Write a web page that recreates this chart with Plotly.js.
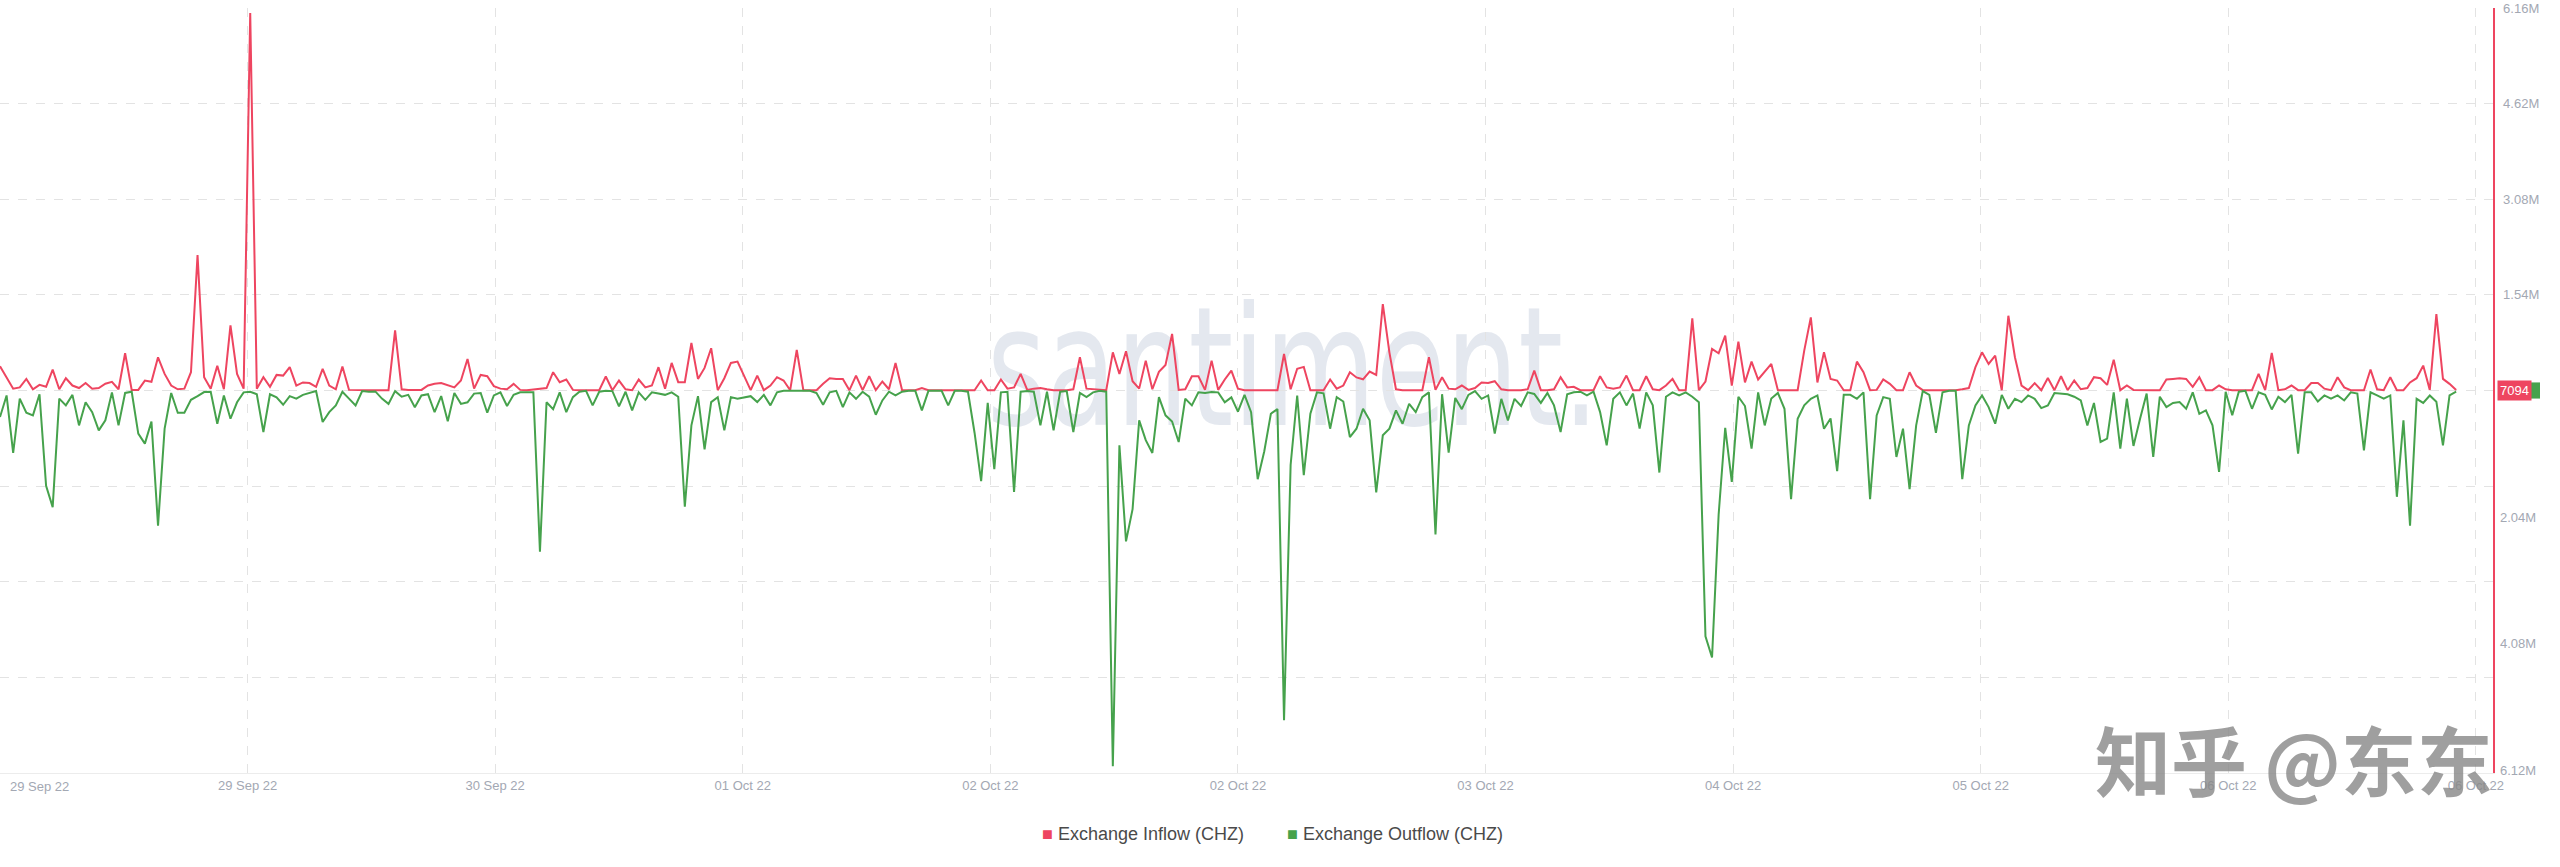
<!DOCTYPE html>
<html>
<head>
<meta charset="utf-8">
<script src="https://cdn.plot.ly/plotly-3.0.1.min.js"></script>
<style>
  html, body { margin: 0; padding: 0; background: #ffffff; }
  #wrap { position: relative; width: 2560px; height: 867px; overflow: hidden; }
  #wm { position: absolute; z-index: 0; font-family: 'Liberation Sans Narrow', 'DejaVu Sans Condensed', sans-serif; font-size: 165px; line-height: 1; color: #e4e8ef; white-space: nowrap; transform-origin: 0 0; }
  #chart { position: absolute; left: 0; top: 0; z-index: 1; width: 2560px; height: 867px; }
</style>
</head>
<body>
<div id="wrap">
  <div id="wm">santiment.</div>
  <div id="chart"></div>
</div>
<script>
// ---- data (values in thousands of CHZ, 30-minute steps) ----
const startTime = '2022-09-29T01:00:00';
const stepMinutes = 30;

const inflowK = [
  390,200,30,50,187,20,90,60,337,20,
  198,80,40,120,30,40,110,140,20,600,
  10,10,160,140,535,267,80,20,30,294,
  2180,214,30,400,20,1050,267,30,6080,30,
  214,60,251,240,375,80,130,120,60,348,
  80,20,385,10,5,5,5,5,5,5,
  970,20,10,5,10,80,110,120,80,50,
  160,508,30,251,230,70,30,20,
  107,10,5,20,30,40,294,134,177,10,
  5,5,5,5,225,5,160,20,5,177,
  50,80,375,30,444,134,134,765,187,364,
  680,5,198,444,465,240,5,240,5,80,
  214,160,5,653,5,5,5,107,198,187,
  187,5,240,5,230,5,145,20,444,5,
  5,5,40,5,5,5,5,5,5,5,
  5,160,5,5,177,30,50,267,
  10,30,40,20,5,5,5,20,535,30,
  20,5,5,615,267,631,150,30,481,20,
  300,412,910,10,20,230,230,10,481,10,
  177,321,30,5,5,5,5,5,5,588,
  20,350,380,5,5,5,177,30,80,294,
  210,180,305,250,1391,615,20,5,5,5,
  5,535,10,214,30,20,80,10,40,130,
  120,150,20,5,5,5,20,321,
  5,5,20,214,50,60,5,5,5,230,
  50,30,50,240,5,5,230,20,5,80,
  187,5,5,1161,5,145,669,600,883,80,
  786,130,465,177,305,428,5,5,5,5,
  642,1177,130,615,187,160,5,5,465,294,
  5,10,177,107,5,5,294,80,5,5,
  5,5,5,5,20,40,375,615,428,562,
  5,1204,535,80,5,118,5,200,
  5,230,5,160,20,40,214,198,90,497,
  5,80,10,5,5,5,5,177,187,198,
  187,60,214,5,5,80,20,5,5,5,
  5,267,5,605,5,20,80,5,5,120,
  120,30,5,214,50,5,5,5,337,20,
  5,214,5,5,130,198,401,10,1230,187,
  107,7.094
];

const outflowK = [
  428,80,1006,130,358,400,60,1535,1878,130,
  240,70,562,190,350,642,480,30,562,40,
  20,695,856,500,2177,615,40,358,358,150,
  90,25,20,535,80,455,190,30,20,60,
  669,60,110,230,90,130,70,40,10,508,
  348,240,20,130,240,10,20,15,130,215,
  10,100,70,270,80,60,350,90,497,40,
  215,190,50,40,358,80,30,250,
  70,30,30,30,2595,190,300,30,348,107,
  20,5,240,20,5,10,257,20,321,30,
  150,30,50,70,30,100,1872,562,91,947,
  187,107,642,107,134,107,91,187,70,240,
  30,5,5,5,5,5,40,230,30,5,
  267,30,134,20,100,390,160,20,80,20,
  5,5,321,5,5,5,240,5,5,20,
  680,1460,200,1268,30,20,1632,20,
  10,20,562,20,642,20,10,669,40,107,
  30,5,20,6050,883,2430,1910,481,800,1006,
  107,400,500,829,130,240,30,40,25,30,
  190,110,340,70,348,1428,979,374,300,5310,
  1200,80,1364,374,30,45,615,107,177,749,
  615,294,481,1642,722,615,321,535,214,348,
  107,30,2320,60,1000,120,300,70,10,134,
  80,695,134,481,134,250,30,55,
  200,40,240,669,60,30,20,80,20,348,
  883,134,30,240,50,615,30,240,1321,100,
  30,80,30,100,187,3960,4300,2000,600,1471,
  100,250,936,30,562,130,40,294,1750,455,
  240,134,80,615,450,1300,70,70,134,30,
  1750,400,107,134,1070,615,1589,562,10,70,
  680,30,5,5,1428,562,240,80,267,535,
  70,294,134,187,80,134,283,240,
  40,50,60,100,160,562,200,829,776,30,
  936,130,893,455,50,1070,100,267,200,187,
  294,30,375,321,562,1310,20,400,20,5,
  294,30,70,305,100,187,70,1016,30,30,
  177,80,130,80,160,30,50,963,30,80,
  130,80,1712,481,2177,134,200,80,180,883,
  80,20
];

const xRange = ['2022-09-29 01:00', '2022-10-06 22:18'];
const xTickVals = ['2022-09-29 01:00','2022-09-29 19:48','2022-09-30 14:36','2022-10-01 09:24',
  '2022-10-02 04:12','2022-10-02 23:00','2022-10-03 17:48','2022-10-04 12:36',
  '2022-10-05 07:24','2022-10-06 02:12','2022-10-06 21:00'];
const xTickText = ['', '29 Sep 22','30 Sep 22','01 Oct 22','02 Oct 22','02 Oct 22',
  '03 Oct 22','04 Oct 22','05 Oct 22','06 Oct 22','06 Oct 22'];
const firstXLabel = '29 Sep 22';

const inflowTickVals = [-6.16e6,-4.62e6,-3.08e6,-1.54e6,0,1.54e6,3.08e6,4.62e6,6.16e6];
const inflowTickText = ['','','','','','1.54M','3.08M','4.62M','6.16M'];
const outflowTickVals = [2.04e6,4.08e6,6.12e6];
const outflowTickText = ['2.04M','4.08M','6.12M'];
const axisMax = 6.16e6;

const seriesNames = ['Exchange Inflow (CHZ)', 'Exchange Outflow (CHZ)'];
const lastValueLabel = '7094';

// ---- build ----
const RED = '#ee4560', GREEN = '#46a24c';
const t0 = Date.parse(startTime + 'Z');
const timeAt = i => new Date(t0 + i * stepMinutes * 60000).toISOString().slice(0, 19).replace('T', ' ');
const xIn = inflowK.map((_, i) => timeAt(i));
const xOut = outflowK.map((_, i) => timeAt(i));

const W = 2560, H = 867;
const M = { l: 0, r: 67, t: 8, b: 94 };
const plotW = W - M.l - M.r, plotH = H - M.t - M.b;
const px2paperX = px => (px - M.l) / plotW;
const px2paperY = py => (H - M.b - py) / plotH;

const tickFont = { family: 'Liberation Sans, Arial, sans-serif', size: 13, color: '#a3a8b3' };
const legendFont = { family: 'Liberation Sans, Arial, sans-serif', size: 18, color: '#4a4a4a' };

const traces = [
  { x: xIn, y: inflowK.map(v => v * 1000), type: 'scatter', mode: 'lines', name: seriesNames[0],
    line: { color: RED, width: 2 }, yaxis: 'y', showlegend: false, hoverinfo: 'skip' },
  { x: xOut, y: outflowK.map(v => v * 1000), type: 'scatter', mode: 'lines', name: seriesNames[1],
    line: { color: GREEN, width: 2 }, yaxis: 'y2', showlegend: false, hoverinfo: 'skip' }
];

const layout = {
  width: W, height: H,
  margin: M,
  paper_bgcolor: 'rgba(0,0,0,0)', plot_bgcolor: 'rgba(0,0,0,0)',
  showlegend: false,
  xaxis: {
    type: 'date', range: xRange, tickmode: 'array', tickvals: xTickVals, ticktext: xTickText,
    showgrid: true, gridcolor: '#e3e3e3', griddash: 'dash', gridwidth: 1,
    showline: true, linecolor: '#ececec', linewidth: 1, ticks: '', zeroline: false,
    tickfont: tickFont, fixedrange: true
  },
  yaxis: {
    range: [-axisMax, axisMax], side: 'right', tickmode: 'array',
    tickvals: inflowTickVals, ticktext: inflowTickText,
    showgrid: true, gridcolor: '#e3e3e3', griddash: 'dash', gridwidth: 1,
    zeroline: false, showline: true, linecolor: RED, linewidth: 1.5, ticks: '',
    tickfont: tickFont, ticklabelstandoff: 6, fixedrange: true
  },
  yaxis2: {
    range: [axisMax, -axisMax], side: 'right', overlaying: 'y', tickmode: 'array',
    tickvals: outflowTickVals, ticktext: outflowTickText,
    showgrid: false, zeroline: false, showline: false, ticks: '',
    tickfont: tickFont, ticklabelstandoff: 6, fixedrange: true
  },
  shapes: [
    { type: 'rect', xref: 'paper', yref: 'y', x0: px2paperX(2530), x1: px2paperX(2540),
      y0: -1.3e5, y1: 1.3e5, fillcolor: GREEN, line: { width: 0 }, layer: 'above' }
  ],
  annotations: [
    { xref: 'paper', yref: 'paper', x: 0, y: 0, xanchor: 'left', yanchor: 'middle',
      xshift: 8, yshift: -13, text: firstXLabel, showarrow: false, font: tickFont },
    { xref: 'paper', yref: 'y', x: 1, y: 0, xanchor: 'left', yanchor: 'middle', xshift: 4,
      text: lastValueLabel, showarrow: false, bgcolor: RED, borderpad: 2,
      font: { family: 'Liberation Sans, Arial, sans-serif', size: 13, color: '#ffffff' } },
    { xref: 'paper', yref: 'paper', x: px2paperX(1040), y: px2paperY(834), xanchor: 'left', yanchor: 'middle',
      text: '<span style="color:' + RED + '">■</span> ' + seriesNames[0], showarrow: false, font: legendFont },
    { xref: 'paper', yref: 'paper', x: px2paperX(1285), y: px2paperY(834), xanchor: 'left', yanchor: 'middle',
      text: '<span style="color:' + GREEN + '">■</span> ' + seriesNames[1], showarrow: false, font: legendFont },
    { xref: 'paper', yref: 'paper', x: px2paperX(2294), y: px2paperY(758), xanchor: 'center', yanchor: 'middle',
      text: '<b>知乎 @东东</b>', showarrow: false,
      font: { family: 'Noto Sans CJK SC, sans-serif', size: 76, color: 'rgba(135,135,135,0.8)' } }
  ]
};

Plotly.newPlot('chart', traces, layout, { staticPlot: true, displayModeBar: false }).then(() => {
  const wm = document.getElementById('wm');
  const r = wm.getBoundingClientRect();
  const targetW = 612, cx = 1293, baseline = 426, fs = 165;
  const sx = targetW / r.width;
  wm.style.transform = 'scaleX(' + sx + ')';
  wm.style.left = (cx - targetW / 2) + 'px';
  wm.style.top = (baseline - 0.85 * fs) + 'px';
});
</script>
</body>
</html>
